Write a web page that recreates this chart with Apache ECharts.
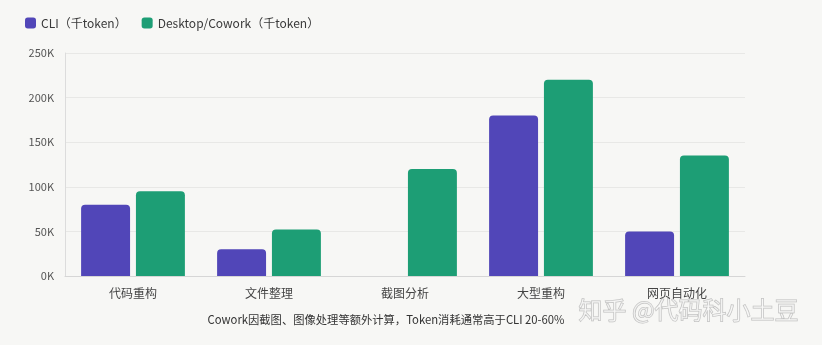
<!DOCTYPE html>
<html>
<head>
<meta charset="utf-8">
<script src="https://cdn.jsdelivr.net/npm/echarts@6/dist/echarts.min.js"></script>
<style>
  html, body { margin: 0; padding: 0; background: #f7f7f5; }
  #chart { width: 822px; height: 345px; }
</style>
</head>
<body>
<div id="chart"></div>
<script>
const categories = ['代码重构', '文件整理', '截图分析', '大型重构', '网页自动化']
const cliValues = [80000, 30000, 0, 180000, 50000]
const desktopValues = [95000, 52000, 120000, 220000, 135000]
const seriesNames = ['CLI（千token）', 'Desktop/Cowork（千token）']
const note = 'Cowork因截图、图像处理等额外计算，Token消耗通常高于CLI 20-60%'
const watermark = '知乎 @代码科小土豆'

const font = '"Noto Sans CJK SC", "Noto Sans", sans-serif'
const chart = echarts.init(document.getElementById('chart'))

const option = {
  backgroundColor: '#f7f7f5',
  textStyle: { fontFamily: font },
  legend: {
    left: 20,
    top: 12,
    itemWidth: 11,
    itemHeight: 11,
    itemGap: 15,
    icon: 'roundRect',
    textStyle: { fontSize: 12, color: '#3a3a3a', fontFamily: font }
  },
  grid: { left: 65, right: 77, top: 53, bottom: 69 },
  xAxis: {
    type: 'category',
    data: categories,
    axisLine: { lineStyle: { color: '#d6d6d6' } },
    axisTick: { show: false },
    axisLabel: { color: '#444', fontSize: 12, margin: 11 }
  },
  yAxis: {
    type: 'value',
    min: 0,
    max: 250000,
    interval: 50000,
    axisLine: { show: true, lineStyle: { color: '#dcdcdc' } },
    axisTick: { show: false },
    splitLine: { lineStyle: { color: '#e8e8e6' } },
    axisLabel: {
      color: '#555',
      fontSize: 11,
      margin: 11,
      formatter: v => (v / 1000) + 'K'
    }
  },
  series: [
    {
      name: seriesNames[0],
      type: 'bar',
      data: cliValues,
      barWidth: '36%',
      barGap: '12%',
      itemStyle: { color: '#5146b8', borderRadius: [4, 4, 0, 0] }
    },
    {
      name: seriesNames[1],
      type: 'bar',
      data: desktopValues,
      barWidth: '36%',
      itemStyle: { color: '#1d9e75', borderRadius: [4, 4, 0, 0] }
    }
  ],
  graphic: [
    {
      type: 'text',
      x: 386,
      y: 320,
      style: {
        text: note, fontSize: 11.3, fill: '#333', fontFamily: font,
        textAlign: 'center', textVerticalAlign: 'middle'
      }
    },
    {
      type: 'text',
      left: 578,
      top: 297,
      style: {
        text: watermark,
        fontSize: 24,
        fill: 'rgba(255,255,255,0.5)',
        stroke: 'rgba(150,150,150,0.6)',
        lineWidth: 1,
        fontFamily: font
      }
    }
  ]
}

chart.setOption(option)
</script>
</body>
</html>
